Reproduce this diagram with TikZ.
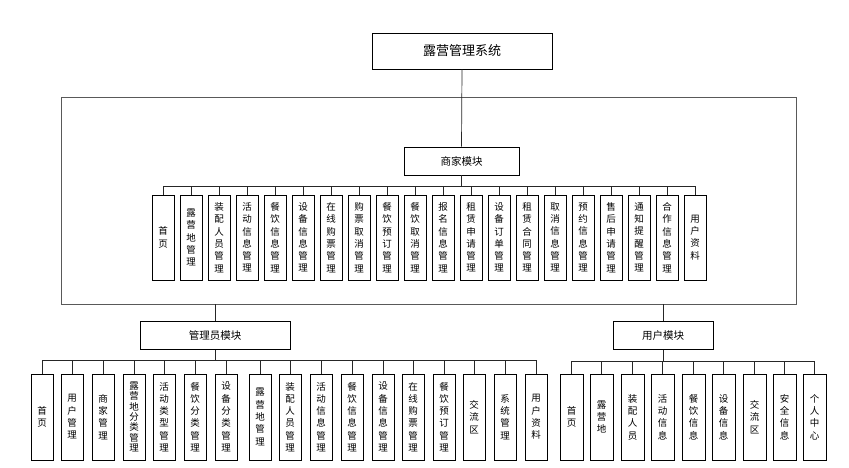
\documentclass[tikz,border=0pt]{standalone}
\usepackage{fontspec}
\newfontfamily\cjk{Noto Sans CJK SC}
\begin{document}
\begin{tikzpicture}[x=1pt,y=-1pt,
  box/.style={draw=black,line width=0.8pt,fill=white,inner sep=0pt,align=center,
    font=\cjk\fontsize{9.5}{12.3}\selectfont},
  modbox/.style={box,minimum height=28pt,font=\cjk\fontsize{10.5}{12}\selectfont},
  vbox/.style={box,minimum width=22pt,minimum height=86pt},
  tight/.style={font=\cjk\fontsize{9.5}{10.4}\selectfont},
  conn/.style={draw=black!85,line width=0.7pt}]
\useasboundingbox (0,0) rectangle (849,468);
% top
\node[box,minimum width=180pt,minimum height=36pt,font=\cjk\fontsize{13}{15}\selectfont] (sys) at (462,51) {露营管理系统};
\node[draw=black!65,line width=0.9pt,minimum width=735pt,minimum height=207pt,inner sep=0pt] (frame) at (428.5,200.5) {};
\node[modbox,minimum width=115pt] (sj) at (461.5,161) {商家模块};
\node[modbox,minimum width=150pt] (admin) at (215,335.5) {管理员模块};
\node[modbox,minimum width=100pt] (user) at (663,335.5) {用户模块};
\draw[conn] (sys.south) -- (sj.north);
\draw[conn] (frame.south -| admin.north) -- (admin.north);
\draw[conn] (frame.south -| user.north) -- (user.north);
% merchant children
\foreach \t [count=\i from 0] in {{首\\页},{露\\营\\地\\管\\理},{装\\配\\人\\员\\管\\理},{活\\动\\信\\息\\管\\理},{餐\\饮\\信\\息\\管\\理},{设\\备\\信\\息\\管\\理},{在\\线\\购\\票\\管\\理},{购\\票\\取\\消\\管\\理},{餐\\饮\\预\\订\\管\\理},{餐\\饮\\取\\消\\管\\理},{报\\名\\信\\息\\管\\理},{租\\赁\\申\\请\\管\\理},{设\\备\\订\\单\\管\\理},{租\\赁\\合\\同\\管\\理},{取\\消\\信\\息\\管\\理},{预\\约\\信\\息\\管\\理},{售\\后\\申\\请\\管\\理},{通\\知\\提\\醒\\管\\理},{合\\作\\信\\息\\管\\理},{用\\户\\资\\料}}{
  \node[vbox,minimum height=85pt] (m\i) at ({163+28*\i},237.5) {\t};
  \draw[conn] (sj.south) -- ++(0,11) -| (m\i.north);
}
% admin children
\foreach \x/\o/\t [count=\i] in {42//{首\\页},72//{用\\户\\管\\理},103//{商\\家\\管\\理},134/tight/{露\\营\\地\\分\\类\\管\\理},164//{活\\动\\类\\型\\管\\理},195//{餐\\饮\\分\\类\\管\\理},226//{设\\备\\分\\类\\管\\理},260//{露\\营\\地\\管\\理},290//{装\\配\\人\\员\\管\\理},321//{活\\动\\信\\息\\管\\理},352//{餐\\饮\\信\\息\\管\\理},383//{设\\备\\信\\息\\管\\理},413//{在\\线\\购\\票\\管\\理},444//{餐\\饮\\预\\订\\管\\理},474//{交\\流\\区},505//{系\\统\\管\\理},536//{用\\户\\资\\料}}{
  \node[vbox,\o] (a\i) at (\x,417) {\t};
  \draw[conn] (admin.south) -- ++(0,10.5) -| (a\i.north);
}
% user children
\foreach \x/\t [count=\i] in {571.5/{首\\页},601.5/{露\\营\\地},632.5/{装\\配\\人\\员},662.5/{活\\动\\信\\息},693.5/{餐\\饮\\信\\息},723.5/{设\\备\\信\\息},754.5/{交\\流\\区},784.5/{安\\全\\信\\息},814.5/{个\\人\\中\\心}}{
  \node[vbox,minimum width=23pt] (u\i) at (\x,417) {\t};
  \draw[conn] (user.south) -- ++(0,11.5) -| (u\i.north);
}
\end{tikzpicture}
\end{document}
